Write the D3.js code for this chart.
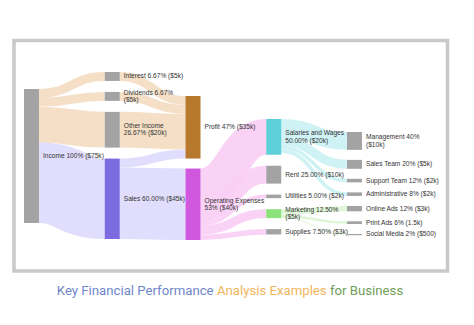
<!DOCTYPE html>
<html>
<head>
<meta charset="utf-8">
<script src="https://cdn.jsdelivr.net/npm/d3@7"></script>
<style>
  html, body { margin: 0; padding: 0; background: #fff; }
  svg { display: block; }
</style>
</head>
<body>
<svg id="chart" width="474" height="325"></svg>
<script>
// ---- data -------------------------------------------------------------
const nodeNames = [
  "Income", "Interest", "Dividends", "Other Income", "Sales",
  "Profit", "Operating Expenses",
  "Salaries and Wages", "Rent", "Utilities", "Marketing", "Supplies",
  "Management", "Sales Team", "Support Team", "Administrative",
  "Online Ads", "Print Ads", "Social Media"
];
const nodeValues = [75, 5, 5, 20, 45, 35, 40, 20, 10, 2, 5, 3, 10, 5, 2, 2, 3, 1.5, 0.5];
const nodeLabels = [
  ["Income 100% ($75k)"],
  ["Interest 6.67% ($5k)"],
  ["Dividends 6.67%", "($5k)"],
  ["Other Income", "26.67% ($20k)"],
  ["Sales 60.00% ($45k)"],
  ["Profit 47% ($35k)"],
  ["Operating Expenses", "53% ($40k)"],
  ["Salaries and Wages", "50.00% ($20k)"],
  ["Rent 25.00% ($10k)"],
  ["Utilities 5.00% ($2k)"],
  ["Marketing 12.50%", "($5k)"],
  ["Supplies 7.50% ($3k)"],
  ["Management 40%", "($10k)"],
  ["Sales Team 20% ($5k)"],
  ["Support Team 12% ($2k)"],
  ["Administrative 8% ($2k)"],
  ["Online Ads 12% ($3k)"],
  ["Print Ads 6% (1.5k)"],
  ["Social Media 2% ($500)"]
];

const linkSources = [
  "Income", "Income", "Income", "Income",
  "Interest", "Dividends", "Other Income", "Sales", "Sales",
  "Operating Expenses", "Operating Expenses", "Operating Expenses", "Operating Expenses", "Operating Expenses",
  "Salaries and Wages", "Salaries and Wages", "Salaries and Wages", "Salaries and Wages",
  "Marketing", "Marketing", "Marketing"
];
const linkTargets = [
  "Interest", "Dividends", "Other Income", "Sales",
  "Profit", "Profit", "Profit", "Profit", "Operating Expenses",
  "Salaries and Wages", "Rent", "Utilities", "Marketing", "Supplies",
  "Management", "Sales Team", "Support Team", "Administrative",
  "Online Ads", "Print Ads", "Social Media"
];
const linkValues = [5, 5, 20, 45, 5, 5, 20, 5, 40, 20, 10, 2, 5, 3, 10, 5, 2, 2, 3, 1.5, 0.5];

const titleParts = ["Key Financial Performance ", "Analysis Examples ", "for Business"];

// ---- styling ----------------------------------------------------------
const nodeFill = {
  "Sales": "#7c6be0",
  "Profit": "#b8792f",
  "Operating Expenses": "#d058df",
  "Salaries and Wages": "#5ccfd9",
  "Marketing": "#8ce27b"
};
const flowFill = {
  "Interest": "#f4dcc2",
  "Dividends": "#f4dcc2",
  "Other Income": "#f4dcc2",
  "Sales": "#dedafc",
  "Operating Expenses": "#f8cef5",
  "Salaries and Wages": "#cbf1f4",
  "Marketing": "#dcf5d4"
};
const titleColors = ["#6f86c9", "#f0b65c", "#6fa05a"];

// column layout: first node top and spacing between nodes
const colTop = [89, 72, 96, 119, 132];
const colGap = [0, 11, 10, 11, 10];
const nodeWidth = 15;

const svg = d3.select("#chart");

// frame
svg.append("rect")
  .attr("x", 14).attr("y", 40.5)
  .attr("width", 433.5).attr("height", 230.5)
  .attr("fill", "none")
  .attr("stroke", "#c9c9c9")
  .attr("stroke-width", 3.5);

// ---- layout -----------------------------------------------------------
const nodes = nodeNames.map((name, i) => ({
  name, value: nodeValues[i], label: nodeLabels[i], depth: 0, outOff: 0, inOff: 0
}));
const byName = new Map(nodes.map(n => [n.name, n]));
const links = linkSources.map((s, i) => ({
  source: byName.get(s), target: byName.get(linkTargets[i]), value: linkValues[i]
}));
links.forEach(l => { l.target.depth = Math.max(l.target.depth, l.source.depth + 1); });

const x = d3.scaleLinear().domain([0, 4]).range([24, 347]);
const h = d3.scaleLinear().domain([0, 75]).range([0, 134]);

d3.groups(nodes, n => n.depth).forEach(([depth, col]) => {
  let y = colTop[depth];
  col.forEach(n => {
    n.x0 = x(depth);
    n.x1 = n.x0 + nodeWidth;
    n.y0 = y;
    n.y1 = y + h(n.value);
    y = n.y1 + colGap[depth];
  });
});

links.forEach(l => {
  l.width = h(l.value);
  l.y0 = l.source.y0 + l.source.outOff + l.width / 2;
  l.source.outOff += l.width;
  l.y1 = l.target.y0 + l.target.inOff + l.width / 2;
  l.target.inOff += l.width;
});

// ---- links ------------------------------------------------------------
const linkPath = d3.linkHorizontal()
  .source(d => [d.source.x1, d.y0])
  .target(d => [d.target.x0, d.y1]);

svg.append("g")
  .attr("fill", "none")
  .selectAll("path")
  .data(links)
  .join("path")
  .attr("d", linkPath)
  .attr("stroke", d => flowFill[d.source.name] || flowFill[d.target.name])
  .attr("stroke-opacity", 0.92)
  .attr("stroke-width", d => Math.max(0.8, d.width));

// ---- labels -----------------------------------------------------------
const lineH = 7.4;
const labels = svg.append("g")
  .attr("font-family", "'Liberation Sans', Arial, sans-serif")
  .attr("font-size", 6.6)
  .attr("fill", "#333");

nodes.forEach(n => {
  const cy = (n.y0 + n.y1) / 2;
  const t = labels.append("text")
    .attr("x", n.x1 + 4)
    .attr("y", cy)
    .attr("dominant-baseline", "middle");
  n.label.forEach((line, i) => {
    t.append("tspan")
      .attr("x", n.x1 + 4)
      .attr("y", cy + (i - (n.label.length - 1) / 2) * lineH)
      .text(line);
  });
});

// ---- nodes ------------------------------------------------------------
svg.append("g")
  .selectAll("rect")
  .data(nodes)
  .join("rect")
  .attr("x", d => d.x0)
  .attr("y", d => d.y0)
  .attr("width", nodeWidth)
  .attr("height", d => Math.max(1.2, d.y1 - d.y0))
  .attr("fill", d => nodeFill[d.name] || "#a3a3a3");

// ---- title ------------------------------------------------------------
const title = svg.append("text")
  .attr("x", 230)
  .attr("y", 295)
  .attr("text-anchor", "middle")
  .attr("font-family", "Roboto, 'Open Sans', sans-serif")
  .attr("font-size", 13.2);
titleParts.forEach((p, i) => {
  title.append("tspan").attr("fill", titleColors[i]).text(p);
});
</script>
</body>
</html>
